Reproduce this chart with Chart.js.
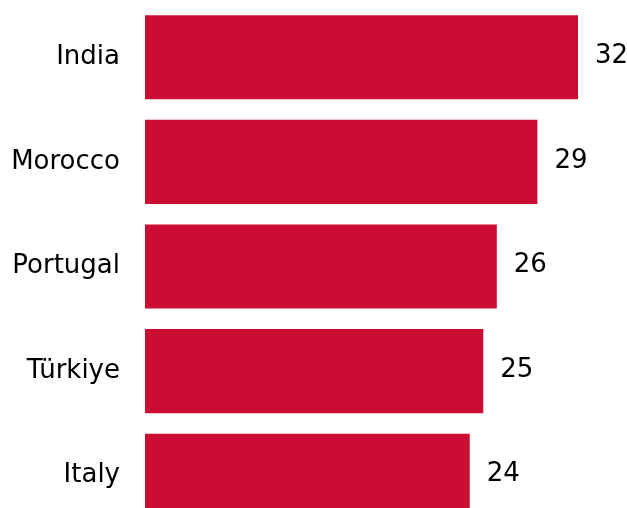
<!DOCTYPE html>
<html>
<head>
<meta charset="utf-8">
<script src="https://cdn.jsdelivr.net/npm/chart.js@4.4.0/dist/chart.umd.min.js"></script>
<style>
    html, body { margin: 0; padding: 0; background: #fff; overflow: hidden; }
    #wrap { width: 627px; height: 528px; position: relative; }
</style>
</head>
<body>
<div id="wrap"><canvas id="barChart"></canvas></div>
<script>
    var countries = ['India', 'Morocco', 'Portugal', 'Türkiye', 'Italy'];
    var values = [32, 29, 26, 25, 24];

    var FONT = '"DejaVu Sans", sans-serif';

    // Étiquettes de valeur à droite des barres
    var valueLabels = {
        id: 'valueLabels',
        afterDatasetsDraw: function (chart) {
            var ctx = chart.ctx;
            var meta = chart.getDatasetMeta(0);
            ctx.save();
            ctx.font = '26px ' + FONT;
            ctx.fillStyle = '#000';
            ctx.textAlign = 'left';
            ctx.textBaseline = 'middle';
            meta.data.forEach(function (bar, i) {
                ctx.fillText(String(values[i]), bar.x + 17, bar.y - 1);
            });
            ctx.restore();
        }
    };

    new Chart(document.getElementById('barChart').getContext('2d'), {
        type: 'bar',
        data: {
            labels: countries,
            datasets: [{
                data: values,
                backgroundColor: '#cb0d33',
                categoryPercentage: 0.804,
                barPercentage: 1
            }]
        },
        options: {
            indexAxis: 'y',
            responsive: true,
            maintainAspectRatio: false,
            animation: false,
            layout: {
                padding: { top: 5, right: 49, bottom: 0, left: 0 }
            },
            plugins: {
                legend: { display: false },
                tooltip: { enabled: false }
            },
            scales: {
                x: {
                    display: false,
                    min: 0,
                    max: 32
                },
                y: {
                    grid: { display: false, drawTicks: false },
                    border: { display: false },
                    ticks: {
                        color: '#000',
                        padding: 25,
                        font: { family: FONT, size: 26 }
                    },
                    afterFit: function (scale) {
                        scale.width = 145;
                        scale.paddingTop = 0;
                        scale.paddingBottom = 0;
                    }
                }
            }
        },
        plugins: [valueLabels]
    });
</script>
</body>
</html>
